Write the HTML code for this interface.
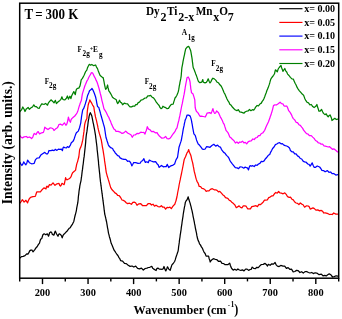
<!DOCTYPE html>
<html><head><meta charset="utf-8"><style>
html,body{margin:0;padding:0;background:#fff;}
body{width:342px;height:319px;overflow:hidden;}
svg{display:block;}
text{font-family:'Liberation Serif','Times New Roman',serif;font-weight:bold;fill:#000;}
</style></head><body>
<svg width="342" height="319" viewBox="0 0 342 319">
<g fill="none" stroke-linejoin="round" stroke-linecap="round" stroke-width="1.25">
<polyline stroke="#000000" points="19.9,258.1 21.5,256.6 23.2,256.4 25.0,255.7 26.7,253.8 27.9,254.2 29.0,252.4 29.9,250.6 30.8,250.1 31.9,250.0 33.1,251.8 34.0,250.7 34.8,249.6 36.0,247.8 37.1,246.7 38.3,244.6 39.5,243.1 40.0,241.2 40.6,239.3 41.8,238.4 42.3,236.7 42.9,234.8 44.1,233.8 45.8,234.8 47.3,233.8 47.9,235.0 48.5,236.2 49.0,235.0 49.6,232.7 51.0,231.9 51.7,232.6 52.4,234.5 53.8,235.1 54.3,234.1 54.7,232.4 55.2,231.1 55.9,232.4 56.6,234.0 58.0,236.3 58.7,234.4 59.4,233.8 60.8,234.8 61.5,235.8 62.2,237.9 62.9,235.8 63.6,234.5 64.5,233.8 65.5,232.7 67.4,230.7 69.3,228.2 70.2,227.7 71.1,226.1 72.5,224.1 73.8,221.4 74.2,219.6 74.6,217.6 75.1,215.5 75.7,213.3 76.2,211.3 76.5,209.8 76.7,208.1 77.0,206.6 77.4,204.6 77.8,202.7 78.0,200.9 78.2,199.2 78.3,197.4 78.5,195.7 78.8,193.6 79.0,191.5 79.3,189.4 79.6,187.8 79.8,186.2 80.1,184.7 80.4,183.1 80.8,181.6 81.1,180.0 81.3,178.2 81.6,176.4 81.8,174.7 82.0,172.9 82.2,171.2 82.5,169.4 82.7,167.6 82.9,165.8 83.2,164.0 83.4,162.3 83.6,160.4 83.8,158.7 84.1,156.9 84.3,155.1 84.5,153.2 84.7,151.4 84.9,149.6 85.1,147.7 85.3,145.9 85.5,144.0 85.7,142.0 85.8,140.0 86.0,138.0 86.2,136.0 86.5,133.8 86.9,131.7 87.2,129.5 87.4,127.7 87.7,126.0 87.9,124.3 88.1,122.5 88.4,120.4 88.8,118.4 89.1,116.3 89.7,114.2 90.3,112.7 91.1,114.3 91.9,116.3 92.2,117.8 92.5,119.4 92.8,121.0 93.1,122.6 93.5,124.2 93.8,125.8 94.1,127.4 94.4,128.9 94.7,130.5 95.0,132.3 95.3,134.1 95.6,136.0 95.8,138.0 96.1,140.0 96.3,142.0 96.6,144.0 96.8,145.7 97.0,147.4 97.1,149.2 97.3,150.9 97.5,152.6 97.7,154.5 97.9,156.4 98.1,158.2 98.3,160.1 98.5,162.0 98.6,163.9 98.8,165.8 99.0,167.6 99.2,169.5 99.4,171.4 99.6,173.1 99.8,174.8 99.9,176.6 100.1,178.3 100.3,180.0 100.5,181.9 100.8,183.7 101.0,185.7 101.3,187.5 101.5,189.4 101.8,191.3 102.0,193.2 102.3,195.0 102.5,196.9 102.8,198.8 103.0,200.7 103.3,202.6 103.5,204.5 103.8,206.4 104.0,208.3 104.2,210.2 104.5,212.1 104.7,214.0 105.2,215.9 105.7,218.0 106.1,220.0 106.6,222.0 106.9,223.9 107.2,225.7 107.5,227.6 107.9,229.4 108.2,231.3 108.5,233.2 109.0,234.9 109.4,236.7 109.9,238.3 110.4,240.0 110.8,241.8 111.3,243.6 112.0,245.1 112.7,246.8 113.4,248.4 114.1,250.2 115.0,251.4 116.0,253.0 117.0,254.5 117.9,255.5 118.8,257.3 119.8,258.7 120.7,260.7 122.6,261.1 124.5,263.3 126.3,263.6 128.2,265.3 130.1,266.4 132.0,266.0 133.8,267.0 135.7,266.2 137.6,268.4 139.5,268.9 141.4,268.1 143.3,270.0 145.2,268.5 147.0,268.1 148.4,267.5 149.8,267.3 151.8,266.3 152.7,268.2 153.5,268.9 156.1,270.5 157.0,268.3 157.9,268.1 158.8,268.8 159.6,269.2 162.3,269.3 163.2,268.7 164.0,266.5 164.9,269.1 165.8,270.9 166.7,268.9 167.5,266.8 168.8,269.1 170.2,270.3 170.8,268.3 171.3,266.8 171.9,264.9 173.2,263.5 174.6,261.5 175.2,259.9 175.7,258.1 176.3,256.2 176.9,254.6 177.5,252.7 178.1,251.1 178.4,249.0 178.6,246.9 178.9,245.0 179.2,242.9 179.4,240.9 179.7,238.9 180.0,237.0 180.2,235.1 180.5,233.3 180.8,231.3 181.1,229.5 181.3,227.6 181.6,225.7 181.9,223.8 182.1,222.0 182.4,220.1 182.7,218.2 183.0,216.3 183.2,214.5 183.5,212.6 183.8,210.9 184.1,209.2 184.4,207.4 184.8,205.7 185.1,203.9 185.4,202.2 186.3,200.5 187.3,199.3 188.2,196.8 188.8,199.3 189.5,201.4 190.1,203.1 190.6,205.1 191.1,206.9 191.5,208.8 192.0,210.6 192.4,212.5 192.8,214.5 193.1,216.3 193.5,218.2 193.9,220.1 194.3,222.0 194.6,223.9 195.0,225.7 195.3,227.6 195.7,229.5 196.1,231.4 196.5,233.2 196.8,235.2 197.2,237.0 197.6,238.8 198.2,240.6 198.9,241.9 199.5,243.8 200.4,244.9 201.4,246.9 202.3,248.1 203.2,250.3 204.0,252.1 205.1,253.5 206.1,256.1 208.6,256.1 209.1,258.4 209.7,259.9 210.2,262.0 211.2,260.5 212.3,259.3 213.9,258.7 215.4,259.5 216.9,259.7 218.4,261.3 220.5,261.1 222.0,263.3 223.5,263.5 225.1,264.7 226.6,264.5 228.1,264.5 229.7,263.1 230.4,265.5 231.0,267.1 231.7,268.5 233.2,270.1 234.8,269.2 236.4,270.2 237.9,269.0 239.4,270.0 240.9,270.4 242.4,269.9 244.0,270.9 245.6,269.1 247.1,269.1 248.6,270.4 250.1,269.5 251.1,269.4 252.2,267.1 253.8,268.5 255.3,268.7 256.8,267.3 258.3,267.6 259.9,265.8 261.4,264.5 263.2,264.4 265.1,263.4 266.3,264.4 267.5,266.0 268.4,264.3 270.1,265.3 271.8,263.8 273.5,264.2 275.1,262.4 276.2,264.9 277.4,266.1 279.1,266.6 280.8,265.4 283.0,266.1 284.7,266.1 286.4,268.4 288.1,267.6 289.8,269.3 291.5,269.2 293.2,271.8 294.9,271.5 296.5,270.3 298.2,270.6 299.9,272.5 301.6,271.7 303.3,273.1 305.0,271.6 306.7,271.5 308.4,272.5 310.0,273.0 311.7,272.5 313.4,273.6 315.1,272.8 316.8,273.1 319.1,274.7 321.3,274.1 323.0,275.8 324.7,275.3 326.2,275.9 327.7,274.7 329.2,273.9 330.9,274.8 332.6,277.0 334.3,276.6 336.1,275.8 337.8,276.2"/>
<polyline stroke="#ff0000" points="19.9,203.1 21.1,201.6 22.4,199.7 24.1,202.1 25.9,200.3 27.6,202.9 28.2,201.0 28.8,199.8 29.4,198.6 31.2,197.1 32.9,196.7 35.1,196.5 35.7,195.3 36.3,193.3 36.9,191.8 38.6,191.8 40.4,191.9 42.1,189.7 43.9,187.9 46.0,188.9 46.5,186.7 47.0,186.2 48.0,187.4 49.5,184.6 51.0,185.1 53.0,182.8 55.0,185.3 57.0,183.8 59.0,183.4 59.8,185.5 60.5,186.1 61.2,185.2 62.0,183.3 64.1,184.7 64.5,183.3 64.8,181.6 65.2,179.9 65.6,177.6 66.3,179.5 67.1,179.8 69.1,178.7 70.1,177.9 71.1,176.6 71.8,174.5 72.6,172.7 74.6,171.0 75.6,170.1 75.9,168.2 76.3,166.3 76.6,164.6 77.1,162.9 77.6,161.6 78.2,159.2 78.8,157.0 79.0,155.2 79.2,153.5 79.4,151.8 79.6,150.0 80.2,148.3 80.9,146.9 81.5,145.1 81.9,143.6 82.3,141.8 82.7,140.2 83.0,138.5 83.2,136.7 83.5,134.9 83.7,133.2 84.0,131.4 84.2,129.3 84.4,127.2 84.6,125.1 85.0,123.2 85.5,121.4 86.2,119.7 86.9,118.5 87.0,116.7 87.1,114.9 87.2,113.1 87.3,111.3 87.6,109.2 87.9,107.1 88.2,105.0 88.7,103.3 89.3,101.7 89.8,99.8 90.7,101.7 91.7,103.2 92.6,105.1 93.8,106.8 94.1,108.9 94.4,110.9 94.8,113.0 95.1,115.0 95.5,116.9 96.0,118.8 96.5,120.7 96.9,122.6 97.3,124.4 97.7,126.1 98.0,127.9 98.4,129.7 98.8,131.3 99.3,133.2 99.8,134.9 100.3,136.5 100.8,138.3 101.3,140.0 101.6,141.9 101.9,143.7 102.2,145.7 102.5,147.5 102.9,149.4 103.2,151.2 103.5,153.1 103.8,155.0 104.1,157.0 104.4,158.9 104.6,160.9 104.9,162.8 105.2,164.8 105.5,166.7 105.7,168.7 106.0,170.7 106.3,172.6 106.8,174.4 107.3,176.3 107.9,178.1 108.4,179.9 109.0,181.8 109.6,183.9 110.1,185.6 110.7,187.6 112.1,189.8 113.5,191.2 114.9,192.9 116.3,193.6 117.8,195.5 119.2,195.7 120.6,197.5 122.0,200.0 123.4,200.4 124.8,201.2 126.2,202.7 127.6,203.6 129.5,203.2 131.4,204.3 132.8,202.3 134.2,202.1 135.6,202.8 137.0,205.3 138.9,203.8 140.8,203.7 142.7,205.7 144.5,205.5 146.4,205.7 148.3,203.5 150.0,203.5 151.5,205.0 153.0,204.2 154.5,206.2 156.0,205.2 158.0,206.6 160.0,206.8 161.4,205.7 162.8,207.2 164.2,207.1 165.6,209.2 167.1,207.3 168.5,207.7 169.9,207.1 171.3,208.7 173.2,205.9 174.8,204.3 175.4,202.4 175.9,201.1 176.4,199.0 176.9,197.0 177.3,195.0 177.6,193.0 178.0,191.0 178.4,189.0 178.8,187.0 179.1,185.0 179.5,183.0 179.9,181.2 180.3,179.4 180.6,177.6 181.0,175.8 181.4,174.0 181.8,172.0 182.2,170.0 182.6,168.0 183.0,166.0 183.4,163.8 183.8,161.7 184.2,159.6 185.5,156.8 186.2,155.1 187.0,152.9 187.8,151.9 188.7,149.6 189.4,152.2 190.0,153.4 190.7,155.0 191.2,156.9 191.6,158.8 192.1,160.8 192.6,162.6 193.0,164.5 193.3,166.4 193.7,168.2 194.0,170.1 194.4,172.0 194.9,173.8 195.4,175.8 195.8,177.6 196.3,179.4 197.0,181.3 197.8,182.6 198.5,184.3 199.2,186.5 200.6,186.6 202.0,188.3 203.4,188.7 204.8,189.5 206.2,191.4 207.6,190.8 209.0,190.9 210.4,189.4 212.3,188.7 214.2,189.8 215.6,189.8 217.0,190.4 218.4,191.8 219.8,191.4 221.2,192.9 222.7,194.7 224.1,195.7 225.5,197.7 227.8,198.3 229.2,200.2 230.6,200.9 232.1,202.6 233.5,203.6 234.9,205.0 236.3,207.7 239.1,205.9 240.5,207.4 241.9,207.8 243.3,205.8 244.7,205.9 246.1,206.2 247.6,208.8 250.4,208.8 251.8,206.7 253.2,206.3 256.0,205.7 257.4,206.6 258.9,204.4 260.3,204.7 261.7,203.5 263.1,202.2 264.5,200.2 265.9,200.2 267.3,200.0 268.7,197.6 270.1,197.1 271.6,195.9 273.0,195.9 274.4,193.8 275.8,192.5 277.2,193.2 278.6,191.5 280.0,193.0 281.4,193.2 283.1,193.8 284.8,192.9 286.2,194.4 287.6,196.7 289.1,197.3 290.5,197.2 291.9,199.2 293.3,199.9 294.7,202.0 296.1,203.0 297.5,203.3 298.9,204.6 300.3,203.0 301.7,204.1 303.1,204.7 304.6,207.2 306.5,205.8 308.3,206.0 309.2,206.8 310.2,209.1 313.0,207.9 314.4,208.6 315.9,210.1 317.8,209.9 319.6,210.9 321.0,210.4 322.4,211.1 323.9,213.0 325.3,212.8 328.1,213.7 329.5,214.5 330.9,214.3 332.3,214.5 333.7,213.0 335.8,214.1 337.8,214.2"/>
<polyline stroke="#0000ff" points="19.9,162.2 20.9,164.1 21.9,165.5 22.8,164.2 23.7,161.9 24.8,163.5 25.9,164.8 26.8,163.2 27.6,160.2 29.4,162.7 31.6,163.8 32.9,163.7 34.2,163.4 34.9,161.3 35.5,159.6 37.3,158.0 39.1,157.9 40.8,155.1 42.6,153.7 44.8,152.4 46.3,153.9 47.5,153.9 48.2,152.7 49.0,150.5 51.0,150.7 52.5,150.2 54.0,150.6 54.7,150.0 55.4,149.3 56.9,150.4 58.4,149.1 59.9,149.3 61.4,149.1 62.4,150.7 62.9,148.3 63.4,147.2 64.9,147.7 66.4,147.8 67.4,146.6 68.9,147.5 69.7,146.2 70.4,145.1 71.3,142.8 72.8,141.6 73.8,139.9 74.3,138.5 74.8,136.9 75.6,134.6 76.4,132.8 78.3,131.1 78.9,129.6 79.6,127.5 80.0,125.9 80.4,124.3 80.8,122.6 81.0,120.7 81.3,118.8 81.5,116.9 81.8,115.0 82.1,113.3 82.4,111.7 82.7,109.9 83.6,108.7 84.6,106.0 85.3,103.9 86.0,101.5 86.5,100.0 86.9,98.3 87.3,96.7 87.8,94.9 88.7,93.0 89.5,90.7 90.8,89.8 92.0,88.5 92.9,89.9 93.8,92.0 94.4,93.5 95.0,95.2 95.6,97.0 96.0,98.9 96.4,100.7 96.7,102.6 97.1,104.5 97.5,106.5 98.8,107.4 99.3,109.3 99.9,111.2 100.4,113.2 100.9,115.0 101.5,117.0 102.0,118.8 102.5,120.5 103.0,122.4 103.5,124.2 104.0,125.8 104.5,127.6 104.8,129.6 105.1,131.5 105.4,133.6 105.7,135.5 106.0,137.5 106.6,139.2 107.1,141.0 107.7,142.7 108.2,144.4 108.8,145.7 110.7,147.7 112.6,148.5 113.5,150.5 114.4,151.4 115.4,153.3 116.3,154.0 117.6,155.6 118.8,155.8 120.1,157.9 122.0,158.9 123.9,159.4 125.8,159.4 127.6,161.3 129.0,161.0 130.4,162.3 131.1,163.8 131.8,165.9 132.8,164.2 133.7,162.5 135.8,162.7 138.0,163.3 140.2,163.2 141.3,161.3 142.4,160.8 143.9,158.7 144.7,161.1 145.4,162.4 146.8,161.8 148.3,162.6 148.8,161.3 149.3,160.1 151.2,161.0 153.4,161.9 155.6,161.6 157.0,163.7 158.1,164.8 159.2,167.4 161.4,165.5 163.6,166.9 165.1,166.5 166.2,166.6 167.3,164.4 168.7,167.6 170.9,165.8 173.1,165.1 174.6,164.0 175.3,161.9 176.1,159.6 177.5,157.4 177.8,155.5 178.1,153.4 178.4,151.4 178.7,149.4 179.0,147.3 179.6,145.5 180.2,143.6 180.8,141.9 181.4,140.0 181.7,138.2 182.0,136.3 182.4,134.4 182.7,132.5 183.0,130.7 183.3,128.8 183.7,127.1 184.1,125.4 184.4,123.6 184.8,121.9 185.2,120.0 185.8,118.8 186.4,117.2 187.0,115.2 188.6,115.1 190.2,116.1 190.8,117.9 191.4,120.1 191.7,122.0 192.1,123.9 192.4,125.7 192.7,127.6 193.1,129.7 193.5,131.8 193.9,133.8 195.2,135.3 195.6,136.7 196.1,138.4 196.5,139.9 197.3,142.1 198.2,144.0 199.6,145.3 201.0,147.2 202.4,149.2 203.9,149.3 205.2,149.0 206.5,146.7 208.2,146.9 210.0,147.3 211.9,145.5 213.8,144.3 215.7,146.1 217.6,145.1 219.0,146.7 220.4,147.1 221.4,149.3 222.3,150.5 223.7,152.4 225.1,153.3 226.5,155.4 227.9,156.6 228.9,158.1 229.8,160.2 230.6,161.6 232.1,163.6 233.5,165.3 235.3,167.6 237.2,167.9 238.6,168.7 240.0,166.8 241.9,167.0 243.8,168.2 245.2,167.1 246.6,167.7 247.6,168.1 248.5,169.9 249.2,167.3 250.0,165.7 251.4,166.2 252.8,165.7 254.2,166.5 255.6,165.0 257.1,165.3 258.5,164.0 259.9,163.4 261.3,161.4 262.7,161.7 264.1,160.9 265.5,158.7 266.9,157.2 268.3,155.3 269.7,154.5 270.7,152.1 271.6,150.6 272.6,148.5 274.0,147.0 275.4,144.6 276.8,144.0 278.2,143.0 279.6,142.6 281.0,143.8 282.4,143.6 283.9,145.1 285.3,145.6 286.7,146.0 288.1,146.7 289.5,148.0 289.9,148.9 290.4,150.6 291.9,151.8 293.3,151.8 294.7,153.8 296.1,153.8 297.5,155.9 298.9,156.6 300.3,158.5 301.7,159.0 303.1,161.1 304.5,161.9 306.1,162.2 307.8,164.0 309.0,164.3 310.2,166.1 312.2,162.9 313.1,165.3 314.1,167.3 315.6,167.3 317.2,166.0 319.6,167.0 320.8,168.5 321.9,170.4 323.5,170.6 325.1,171.8 327.4,170.6 329.0,172.3 330.6,172.0 332.1,173.7 333.7,173.5 335.8,175.1 337.8,174.7"/>
<polyline stroke="#ff00ff" points="19.9,135.6 21.1,137.2 22.4,137.9 24.1,136.9 26.3,136.5 27.6,137.6 29.4,137.0 30.5,137.6 31.6,138.5 32.2,137.9 32.9,136.8 33.5,135.0 34.2,133.4 36.0,134.6 37.1,132.5 38.2,131.6 39.5,133.9 41.7,132.8 43.4,132.4 43.9,130.9 44.3,129.3 44.8,127.1 46.1,128.4 48.0,129.5 50.0,127.9 51.5,128.0 53.0,128.7 54.0,130.5 55.4,129.1 57.4,127.7 58.1,126.6 58.9,124.5 60.4,124.1 62.4,125.2 64.4,122.8 65.9,125.3 66.9,123.8 67.4,122.0 67.9,120.0 68.4,117.1 69.4,120.5 70.4,122.3 71.1,119.7 71.8,118.6 73.3,117.2 74.8,116.0 76.4,113.9 77.1,112.7 77.8,111.0 78.3,109.4 78.8,107.6 79.3,105.9 79.8,104.5 80.3,102.9 81.3,100.6 81.6,98.9 81.8,97.3 82.1,95.6 82.4,93.9 83.0,91.9 83.7,89.6 84.3,87.7 84.9,85.8 85.6,84.2 86.2,82.7 87.0,80.8 87.9,79.5 88.7,77.5 89.7,75.8 90.6,74.2 91.3,72.9 92.1,72.6 92.9,73.4 93.7,75.2 94.5,76.9 95.3,78.3 96.2,80.4 97.0,82.0 97.6,83.7 98.2,85.8 98.8,87.6 99.3,89.5 99.8,91.3 100.2,93.2 100.7,95.0 101.2,97.0 101.6,98.8 102.0,100.8 102.5,102.6 103.0,104.7 103.5,106.8 104.0,108.8 105.2,110.6 106.3,112.5 107.2,114.4 108.0,116.1 108.9,117.5 109.5,119.2 110.2,120.6 110.8,122.1 111.4,123.9 112.2,125.4 113.1,127.4 113.9,129.0 115.0,129.7 116.0,131.3 118.2,131.4 120.1,132.1 122.0,133.4 123.8,132.9 125.7,131.1 127.6,133.0 129.5,134.0 130.9,134.7 132.3,137.3 133.7,135.0 135.1,134.9 137.0,133.4 138.9,133.6 140.8,132.2 142.7,132.5 143.8,132.4 145.0,134.1 145.6,132.1 146.2,130.7 146.7,129.0 147.3,126.7 148.5,129.1 149.7,129.5 151.6,131.7 153.5,131.4 155.3,132.8 157.2,132.7 158.1,134.5 159.1,135.7 160.5,137.0 161.9,138.2 163.8,138.0 165.7,136.5 167.1,138.6 168.5,138.8 169.9,138.3 171.3,136.6 172.3,135.0 173.3,133.6 174.3,132.5 175.2,131.1 176.1,129.0 177.0,127.8 177.5,125.7 177.9,123.9 178.4,121.9 178.9,120.2 179.3,118.0 179.8,115.9 180.2,113.8 180.6,111.7 181.0,109.6 181.4,107.5 181.8,105.5 182.3,103.4 182.7,101.3 183.0,99.5 183.4,97.9 183.7,96.1 184.1,94.4 184.4,92.6 184.7,90.9 185.0,89.2 185.2,87.5 185.5,85.8 185.8,84.1 186.2,82.0 186.6,80.1 187.0,77.8 188.2,77.0 189.3,79.0 189.7,80.5 190.1,82.2 190.3,84.4 190.6,86.6 190.8,88.8 191.2,90.7 191.5,92.8 192.9,93.8 193.8,96.4 194.3,98.1 194.8,100.0 194.9,101.9 195.0,103.8 195.1,105.6 195.2,107.5 195.8,109.8 196.5,111.6 197.7,112.5 198.3,113.4 199.0,114.6 200.2,116.4 201.5,116.2 203.3,116.5 205.2,117.0 206.1,115.4 207.1,113.1 209.6,112.6 211.0,113.6 211.9,111.4 212.9,108.6 213.5,111.0 214.1,112.5 214.7,113.4 215.6,113.0 216.6,110.9 218.5,112.8 219.4,114.8 220.4,117.1 221.4,118.7 222.3,120.6 223.2,122.8 224.2,124.4 224.8,126.4 225.4,128.2 226.0,130.3 226.9,131.4 227.9,132.6 228.9,134.8 229.8,137.0 231.2,138.0 232.6,139.6 234.0,140.7 235.4,143.0 236.9,141.9 238.3,143.4 239.7,142.0 241.1,142.3 242.5,141.1 243.9,142.9 245.3,142.4 246.7,143.9 248.1,141.9 249.5,141.1 251.2,140.9 252.8,139.0 254.2,139.5 255.6,137.8 257.1,137.5 258.5,135.7 259.9,135.7 261.3,133.5 262.7,133.0 264.1,131.2 264.7,130.2 265.4,128.4 266.0,127.0 266.9,125.1 267.9,123.0 268.5,121.8 269.1,120.0 269.7,118.6 270.3,116.5 271.0,114.8 271.6,112.7 272.1,111.1 272.6,109.3 273.0,107.6 273.5,105.6 274.9,104.8 276.3,105.0 278.2,103.7 280.1,102.2 281.5,103.6 282.9,103.8 283.9,105.7 284.8,106.2 286.7,106.0 287.3,107.0 288.0,108.7 288.6,110.6 289.5,111.5 290.4,112.9 291.4,114.6 292.3,116.8 293.3,118.6 294.7,119.9 296.1,122.3 297.5,122.6 298.9,124.7 300.3,125.4 301.7,127.2 302.7,128.4 303.6,130.2 304.6,131.4 306.5,133.6 307.9,134.0 309.4,135.7 311.3,135.6 312.7,137.1 314.1,138.4 315.5,140.5 316.9,141.3 318.3,142.8 319.7,143.0 321.1,144.2 322.6,144.2 324.0,145.8 325.4,146.1 328.2,147.0 329.6,146.7 331.0,148.0 332.4,149.3 333.8,148.8 335.7,150.3 337.6,151.9"/>
<polyline stroke="#008000" points="19.9,111.5 21.5,109.9 22.8,107.0 24.1,109.3 25.0,111.5 26.3,108.9 28.1,107.4 29.4,109.3 31.2,107.6 32.5,107.0 33.8,104.9 35.1,106.7 36.4,106.6 37.7,108.0 39.1,108.4 39.8,107.0 40.4,106.0 41.7,103.9 43.0,104.2 44.3,104.3 45.6,103.4 47.5,105.2 48.2,103.3 49.0,102.2 51.0,99.8 52.5,101.2 54.0,102.9 55.4,100.4 56.4,103.6 57.9,102.0 59.9,100.4 60.9,99.4 61.9,96.8 62.6,99.0 63.4,99.6 64.9,99.9 66.4,98.3 67.4,96.0 68.4,99.1 69.9,96.2 70.9,98.6 71.6,96.0 72.3,94.5 73.8,91.6 75.3,94.7 75.8,91.7 76.3,89.6 77.3,88.3 78.8,88.1 80.0,85.9 80.4,84.0 80.8,82.1 81.2,79.9 82.4,78.4 83.7,76.0 84.3,74.8 84.9,73.3 85.8,71.3 86.8,70.2 87.4,68.1 88.1,66.5 89.3,64.3 90.6,65.2 91.8,64.5 93.7,65.7 95.6,65.0 96.5,67.1 97.5,68.6 98.1,70.4 98.8,72.2 99.4,73.7 100.0,75.3 101.3,76.4 102.5,77.5 103.2,77.5 103.6,79.7 104.0,81.7 104.4,83.8 104.8,85.8 105.3,88.0 105.7,89.4 106.7,88.0 107.6,85.0 108.0,87.4 108.4,89.0 108.8,90.8 109.6,91.9 110.5,93.4 111.3,94.8 112.5,97.2 113.8,98.3 116.3,99.8 116.9,102.1 117.6,103.6 118.5,102.5 119.5,100.2 120.5,102.3 121.6,102.9 122.6,104.8 124.2,103.2 125.7,103.6 127.6,103.8 128.8,105.6 130.0,106.8 131.6,106.9 133.1,106.0 134.7,106.2 135.8,104.5 137.0,104.6 138.2,102.6 139.4,102.1 141.2,100.0 142.9,99.6 145.0,98.0 146.4,97.8 147.8,95.9 149.2,95.8 150.6,95.3 152.1,97.2 153.5,97.9 154.9,99.7 156.3,102.1 157.7,103.9 159.1,105.5 160.1,107.7 161.0,108.7 161.9,108.2 162.9,106.2 164.3,107.2 165.7,107.7 167.1,108.6 168.5,108.3 169.9,106.1 171.3,104.3 173.2,104.1 173.8,101.9 174.4,100.1 175.0,98.0 175.9,97.0 176.9,95.2 177.6,93.6 178.3,91.6 178.7,89.7 179.0,87.9 179.3,85.9 179.7,84.1 180.0,82.2 180.4,80.4 180.8,78.4 181.1,76.6 181.3,74.8 181.4,73.0 181.6,71.2 181.7,69.4 181.9,67.6 182.3,65.6 182.7,63.6 183.0,61.6 183.4,59.6 183.8,57.6 184.2,55.8 184.6,54.1 184.9,52.3 185.3,50.6 185.7,48.9 187.1,47.1 188.6,46.4 189.3,47.4 190.0,49.1 190.7,50.8 191.0,52.4 191.3,54.2 191.6,55.9 191.9,57.6 192.2,59.6 192.4,61.6 192.7,63.6 192.9,65.6 193.2,67.5 194.3,70.1 195.0,71.9 195.7,73.9 196.4,75.6 197.1,77.6 197.8,79.7 198.5,81.6 199.9,82.7 201.8,82.1 202.8,79.6 203.2,81.8 203.7,82.4 205.0,82.8 206.3,82.3 207.2,81.1 208.2,78.8 209.1,81.2 210.0,82.9 211.0,81.6 211.9,79.5 212.9,78.2 214.3,78.9 215.7,80.1 217.1,82.2 218.5,82.8 219.9,84.8 221.3,86.3 221.9,87.5 222.6,89.0 223.2,90.6 224.1,92.7 225.1,94.4 225.7,96.1 226.4,97.6 227.0,99.0 227.9,100.6 228.9,102.1 229.8,104.2 231.2,105.3 232.6,107.3 234.0,108.7 235.4,110.0 236.9,110.6 238.3,109.7 239.7,111.8 241.1,112.2 243.9,113.2 245.3,111.8 246.7,111.2 248.1,111.0 249.5,109.5 250.9,110.7 252.4,109.7 253.7,110.2 255.0,108.3 255.6,107.1 257.1,105.5 258.5,105.9 259.9,104.0 261.3,103.1 262.2,101.4 263.2,100.2 264.1,98.2 264.8,96.5 265.5,94.4 266.2,92.7 266.9,90.5 267.5,89.2 268.2,87.6 268.8,85.9 269.3,84.4 269.8,82.7 270.2,81.2 270.7,79.4 271.6,77.8 272.6,76.5 273.6,75.3 274.5,73.8 274.9,71.9 275.4,69.8 277.3,71.8 278.2,69.0 279.2,67.5 281.0,65.5 281.6,67.7 282.3,69.4 282.9,71.3 284.8,68.5 285.7,70.9 286.7,72.0 287.6,74.1 289.0,75.5 290.4,77.4 291.9,78.9 293.3,79.1 294.2,81.2 295.1,83.3 296.1,85.0 297.0,87.2 298.0,88.8 299.4,90.8 300.8,92.4 302.2,94.1 303.6,95.2 304.3,97.1 304.9,98.8 305.6,100.1 307.1,102.3 308.5,102.9 309.9,104.8 311.3,104.5 312.7,106.6 314.1,107.6 315.5,106.6 316.9,104.5 317.5,106.8 318.2,108.7 318.8,111.0 320.2,111.0 321.6,109.4 322.6,111.7 323.5,113.4 324.9,114.6 326.3,113.9 327.2,115.8 328.2,116.8 329.1,115.6 330.1,114.9 330.7,116.3 331.4,117.9 332.0,120.5 334.8,118.3 336.3,119.5 337.8,119.2"/>
</g>
<rect x="19.7" y="3.2" width="319.0" height="275.0" fill="none" stroke="#000" stroke-width="1.5"/>
<g stroke="#000" stroke-width="1.4">
<line x1="42.50" y1="278.2" x2="42.50" y2="284.1"/><line x1="65.28" y1="278.2" x2="65.28" y2="281.4"/><line x1="88.05" y1="278.2" x2="88.05" y2="284.1"/><line x1="110.83" y1="278.2" x2="110.83" y2="281.4"/><line x1="133.60" y1="278.2" x2="133.60" y2="284.1"/><line x1="156.38" y1="278.2" x2="156.38" y2="281.4"/><line x1="179.15" y1="278.2" x2="179.15" y2="284.1"/><line x1="201.93" y1="278.2" x2="201.93" y2="281.4"/><line x1="224.70" y1="278.2" x2="224.70" y2="284.1"/><line x1="247.47" y1="278.2" x2="247.47" y2="281.4"/><line x1="270.25" y1="278.2" x2="270.25" y2="284.1"/><line x1="293.02" y1="278.2" x2="293.02" y2="281.4"/><line x1="315.80" y1="278.2" x2="315.80" y2="284.1"/><line x1="19.7" y1="278.2" x2="19.7" y2="281.4"/><line x1="338.7" y1="278.2" x2="338.7" y2="281.4"/>
</g>
<text x="34.68" y="295.70" style="font-size:10.4px" transform="matrix(1,0,0,1.05,0,-14.785)">200</text><text x="80.25" y="295.70" style="font-size:10.4px" transform="matrix(1,0,0,1.05,0,-14.785)">300</text><text x="125.93" y="295.70" style="font-size:10.4px" transform="matrix(1,0,0,1.05,0,-14.785)">400</text><text x="171.34" y="295.70" style="font-size:10.4px" transform="matrix(1,0,0,1.05,0,-14.785)">500</text><text x="216.92" y="295.70" style="font-size:10.4px" transform="matrix(1,0,0,1.05,0,-14.785)">600</text><text x="262.35" y="295.70" style="font-size:10.4px" transform="matrix(1,0,0,1.05,0,-14.785)">700</text><text x="308.03" y="295.70" style="font-size:10.4px" transform="matrix(1,0,0,1.05,0,-14.785)">800</text>
<line x1="279.3" y1="8.70" x2="302.5" y2="8.70" stroke="#000000" stroke-width="1.15"/><text x="304.26" y="12.10" style="font-size:10.5px" transform="matrix(0.96,0,0,1.05,12.172,-0.605)">x= 0.00</text><line x1="279.3" y1="22.40" x2="302.5" y2="22.40" stroke="#ff0000" stroke-width="1.15"/><text x="304.26" y="25.72" style="font-size:10.5px" transform="matrix(0.96,0,0,1.05,12.172,-1.286)">x= 0.05</text><line x1="279.3" y1="36.10" x2="302.5" y2="36.10" stroke="#0000ff" stroke-width="1.15"/><text x="304.26" y="39.34" style="font-size:10.5px" transform="matrix(0.96,0,0,1.05,12.172,-1.967)">x= 0.10</text><line x1="279.3" y1="49.80" x2="302.5" y2="49.80" stroke="#ff00ff" stroke-width="1.15"/><text x="304.26" y="52.96" style="font-size:10.5px" transform="matrix(0.96,0,0,1.05,12.172,-2.648)">x= 0.15</text><line x1="279.3" y1="63.50" x2="302.5" y2="63.50" stroke="#008000" stroke-width="1.15"/><text x="304.26" y="66.58" style="font-size:10.5px" transform="matrix(0.96,0,0,1.05,12.172,-3.329)">x= 0.20</text>
<text x="24.40" y="19.20" style="font-size:13px" transform="matrix(1.0,0,0,1.06,0.000,-1.152)">T</text><text x="35.35" y="19.20" style="font-size:13px" transform="matrix(1.0,0,0,1.06,0.000,-1.152)">=</text><text x="45.61" y="19.20" style="font-size:13px" transform="matrix(1.0,0,0,1.06,0.000,-1.152)">300</text><text x="68.38" y="19.20" style="font-size:13px" transform="matrix(1.0,0,0,1.06,0.000,-1.152)">K</text><text x="145.98" y="14.85" style="font-size:12.5px" transform="matrix(0.9,0,0,1.08,14.620,-1.188)">Dy</text><text x="160.40" y="20.70" style="font-size:12px" transform="matrix(1.0,0,0,1.08,0.000,-1.656)">2</text><text x="167.05" y="14.85" style="font-size:12.5px" transform="matrix(0.9,0,0,1.08,16.725,-1.188)">Ti</text><text x="178.30" y="20.70" style="font-size:12px" transform="matrix(1.0,0,0,1.08,0.000,-1.656)">2-x</text><text x="195.69" y="14.85" style="font-size:12.5px" transform="matrix(0.9,0,0,1.08,19.590,-1.188)">Mn</text><text x="213.35" y="20.70" style="font-size:12px" transform="matrix(1.0,0,0,1.08,0.000,-1.656)">x</text><text x="219.09" y="14.85" style="font-size:12.5px" transform="matrix(0.9,0,0,1.08,21.970,-1.188)">O</text><text x="227.81" y="20.70" style="font-size:12px" transform="matrix(1.0,0,0,1.08,0.000,-1.656)">7</text><text x="44.66" y="83.60" style="font-size:8.2px" transform="matrix(0.88,0,0,1.0,5.376,0.000)">F</text><text x="49.10" y="88.50" style="font-size:7.2px" transform="matrix(1.0,0,0,1.2,0.000,-17.700)">2g</text><text x="144.66" y="83.60" style="font-size:8.2px" transform="matrix(0.88,0,0,1.0,17.376,0.000)">F</text><text x="149.10" y="88.60" style="font-size:7.2px" transform="matrix(1.0,0,0,1.2,0.000,-17.720)">2g</text><text x="211.36" y="66.00" style="font-size:8.2px" transform="matrix(0.88,0,0,1.0,25.380,0.000)">F</text><text x="215.80" y="71.30" style="font-size:7.2px" transform="matrix(1.0,0,0,1.2,0.000,-14.260)">2g</text><text x="181.83" y="35.20" style="font-size:7.4px">A</text><text x="187.84" y="40.00" style="font-size:7.0px" transform="matrix(1.0,0,0,1.12,0.000,-4.800)">1g</text><text x="77.56" y="51.60" style="font-size:8.2px" transform="matrix(0.88,0,0,1.0,9.324,0.000)">F</text><text x="82.60" y="56.20" style="font-size:7.2px" transform="matrix(1.0,0,0,1.2,0.000,-11.240)">2g</text><text x="89.78" y="51.00" style="font-size:6.0px">+</text><text x="93.06" y="51.70" style="font-size:8.2px" transform="matrix(0.9,0,0,1.0,9.320,0.000)">E</text><text x="99.11" y="56.60" style="font-size:7.2px" transform="matrix(1.0,0,0,1.2,0.000,-11.320)">g</text>
<text transform="translate(11.8,204.26) rotate(-90)" style="font-size:13.6px">Intensity (arb. units.)</text>
<text x="133.63" y="313.80" style="font-size:12.2px" transform="matrix(1.0,0,0,1.08,0.000,-25.104)">Wavenumber (cm</text><text x="227.74" y="306.70" style="font-size:7.0px">-</text><text x="230.74" y="306.70" style="font-size:7.0px" transform="matrix(1.0,0,0,1.1,0.000,-30.670)">1</text><text x="234.21" y="313.90" style="font-size:12.2px" transform="matrix(1.0,0,0,1.15,0.000,-47.085)">)</text>
</svg>
</body></html>
